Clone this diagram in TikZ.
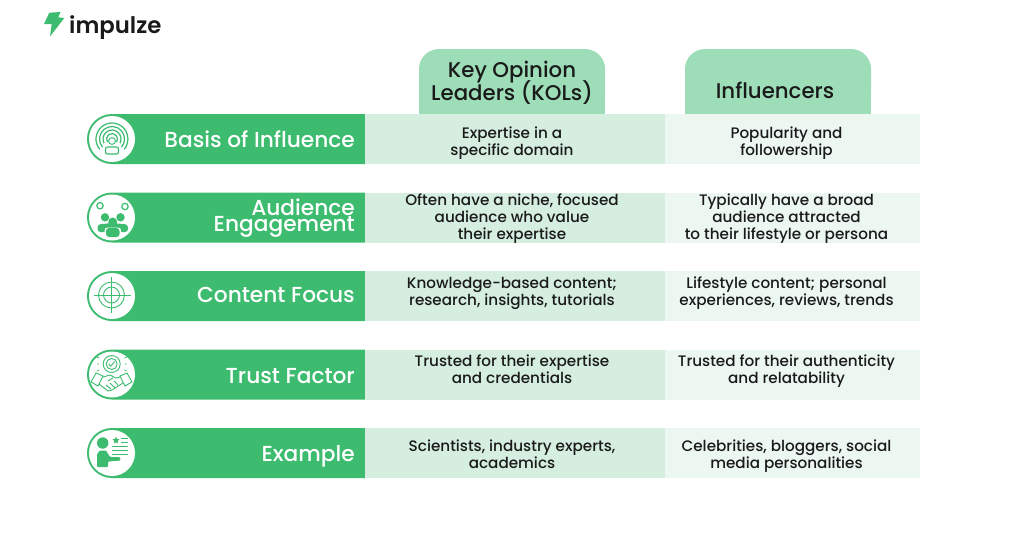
\documentclass[tikz,border=0pt]{standalone}
\usepackage{fontspec}
\setmainfont{Poppins Medium}
\newfontfamily\logofont{Poppins SemiBold}
\usetikzlibrary{positioning, shapes.misc}
\definecolor{brandgreen}{HTML}{3DBC70}
\definecolor{headgreen}{HTML}{9DDEB8}
\definecolor{kolcell}{HTML}{D5EEDF}
\definecolor{infcell}{HTML}{ECF7F1}
\definecolor{inkblack}{HTML}{1A1A1A}

\begin{document}
\begin{tikzpicture}[
    x=1pt, y=-1pt,
    node distance = 28.5pt and 0pt,
    every node/.style={text=inkblack},
    rowbar/.style={shape=rounded rectangle, rounded rectangle right arc=none, fill=brandgreen, minimum width=278pt, minimum height=50pt, inner sep=0pt, outer sep=0pt},
    rowtitle/.style={text=white, font=\fontsize{21.7}{16}\selectfont, execute at begin node={\lineskiplimit=-20pt\relax}, align=right, anchor=east, inner sep=0pt},
    kolbox/.style={fill=kolcell, minimum width=300pt, minimum height=50pt, inner sep=0pt, outer sep=0pt},
    infbox/.style={fill=infcell, minimum width=255pt, minimum height=50pt, inner sep=0pt, outer sep=0pt},
    celltext/.style={font=\fontsize{15.2}{17}\selectfont, align=center, inner sep=0pt},
    headbox/.style={fill=headgreen, minimum width=186pt, minimum height=64.5pt, inner sep=0pt, outer sep=0pt, rounded corners=20pt},
    headtext/.style={font=\fontsize{21.3}{23.5}\selectfont, execute at begin node={\lineskiplimit=-20pt\relax}, align=center, inner sep=0pt},
    iconring/.style={fill=white, minimum size=46pt, inner sep=0pt, shape=circle},
    iconline/.style={draw=brandgreen, line width=1.2pt, fill=none},
    thinline/.style={draw=brandgreen, line width=0.9pt, fill=none},
    iconfill/.style={fill=brandgreen, draw=none}
]
\useasboundingbox (0,0) rectangle (1024,547);

% Logo
\fill[brandgreen] (49.3,12.7) -- (60.5,12) -- (58.3,17.3) -- (64.3,18) -- (50,36.5) -- (51.7,24) -- (44,24) -- cycle;
\node[anchor=base west, inner sep=0pt, font=\fontsize{22.8}{25}\logofont] (logo) at (69,33) {impulze};

% Rows: title bar, then the two cells
\node[rowbar, anchor=west] (bar1) at (87,139) {};
\node[kolbox, right=of bar1] (kol1) {};
\node[infbox, right=of kol1] (inf1) {};

\node[rowbar, below=of bar1] (bar2) {};
\node[kolbox, right=of bar2] (kol2) {};
\node[infbox, right=of kol2] (inf2) {};

\node[rowbar, below=of bar2] (bar3) {};
\node[kolbox, right=of bar3] (kol3) {};
\node[infbox, right=of kol3] (inf3) {};

\node[rowbar, below=of bar3] (bar4) {};
\node[kolbox, right=of bar4] (kol4) {};
\node[infbox, right=of kol4] (inf4) {};

\node[rowbar, below=of bar4] (bar5) {};
\node[kolbox, right=of bar5] (kol5) {};
\node[infbox, right=of kol5] (inf5) {};

% Column heads
\node[headbox, sharp corners, minimum height=30pt, anchor=south] (headkolbase) at (512,113.5) {};
\node[headbox, anchor=south] (headkol) at (512,113.5) {};
\node[headbox, sharp corners, minimum height=30pt, anchor=south] (headinfbase) at (778,113.5) {};
\node[headbox, anchor=south] (headinf) at (778,113.5) {};
\node[headtext] (kolhead) at (512,83) {Key Opinion\\Leaders (KOLs)};
\node[headtext] (infhead) at (775,90) {Influencers};

% Row titles
\node[rowtitle] (title1) at ([xshift=-10pt]bar1.east) {Basis of Influence};
\node[rowtitle] (title2) at ([xshift=-10pt,yshift=-1pt]bar2.east) {Audience\\Engagement};
\node[rowtitle] (title3) at ([xshift=-10pt,yshift=1pt]bar3.east) {Content Focus};
\node[rowtitle] (title4) at ([xshift=-10pt,yshift=-1.5pt]bar4.east) {Trust Factor};
\node[rowtitle] (title5) at ([xshift=-10pt,yshift=-3pt]bar5.east) {Example};

% Cell texts
\node[celltext] (text11) at ([xshift=-3pt,yshift=-4.5pt]kol1.center) {Expertise in a\\specific domain};
\node[celltext] (text12) at ([xshift=-6pt,yshift=-4.5pt]inf1.center) {Popularity and\\followership};
\node[celltext] (text21) at ([xshift=-3pt,yshift=-1pt]kol2.center) {Often have a niche, focused\\audience who value\\their expertise};
\node[celltext] (text22) at ([xshift=-6pt,yshift=-1pt]inf2.center) {Typically have a broad\\audience attracted\\to their lifestyle or persona};
\node[celltext] (text31) at ([xshift=-3pt,yshift=2.5pt]kol3.center) {Knowledge-based content;\\research, insights, tutorials};
\node[celltext] (text32) at ([xshift=-6pt,yshift=2.5pt]inf3.center) {Lifestyle content; personal\\experiences, reviews, trends};
\node[celltext] (text41) at ([xshift=-3pt,yshift=5pt]kol4.center) {Trusted for their expertise\\and credentials};
\node[celltext] (text42) at ([xshift=-6pt,yshift=3pt]inf4.center) {Trusted for their authenticity\\and relatability};
\node[celltext] (text51) at ([xshift=-3pt,yshift=-1pt]kol5.center) {Scientists, industry experts,\\academics};
\node[celltext] (text52) at ([xshift=-6pt,yshift=-3pt]inf5.center) {Celebrities, bloggers, social\\media personalities};

% Icon discs
\node[iconring] (disc1) at (112,139) {};
\node[iconring] (disc2) at (112,217.5) {};
\node[iconring] (disc3) at (112,296) {};
\node[iconring] (disc4) at (112,374.5) {};
\node[iconring] (disc5) at (112,453) {};

% Signal icon
\draw[iconline] (disc1.center) ++(215:5.5pt) arc[start angle=215, end angle=-35, radius=5.5pt];
\draw[iconline] (disc1.center) ++(220:9pt) arc[start angle=220, end angle=-40, radius=9pt];
\draw[iconline] (disc1.center) ++(220:12.5pt) arc[start angle=220, end angle=-40, radius=12.5pt];
\draw[iconline] (disc1.center) ++(220:16pt) arc[start angle=220, end angle=-40, radius=16pt];
\fill[white] (104,143) rectangle (120,156);
\draw[thinline] (112,141) circle[radius=3.4pt];
\draw[iconline, rounded corners=2pt] (105.5,154) -- (105.5,147) -- (118.5,147) -- (118.5,154) -- cycle;

% People icon
\draw[iconline] (100,205.7) circle[radius=3.2pt];
\draw[iconline] (125,206.5) circle[radius=3.2pt];
\fill[iconfill] (105,217.3) circle[radius=4.2pt] (120.5,217.3) circle[radius=4.2pt] (112.7,222) circle[radius=4.5pt];
\fill[iconfill, rounded corners=3pt] (97.5,232) -- (97.5,224.5) -- (112,223) -- (128,224.5) -- (128,232) -- cycle;
\fill[white, rounded corners=3pt] (104.5,237.5) -- (104.5,227.5) -- (121,227.5) -- (121,237.5) -- cycle;
\fill[iconfill, rounded corners=3pt] (106,237) -- (106,228) -- (119.5,228) -- (119.5,237) -- cycle;

% Target icon
\draw[thinline] (111.5,295) circle[radius=13pt] (111.5,295) circle[radius=8pt];
\draw[thinline] (93.5,295) -- (130.5,295) (111.5,277) -- (111.5,313);

% Handshake icon
\draw[thinline] (111.7,364) circle[radius=8.5pt] (111.7,364) circle[radius=5.5pt];
\draw[thinline] (108.7,364) -- (110.7,366.2) -- (114.7,361.5);
\draw[thinline] (99,358) -- (97,357) (99,364) -- (97,364) (99,370) -- (97,371) (124.5,358) -- (126.5,357) (124.5,364) -- (126.5,364) (124.5,370) -- (126.5,371);
\draw[thinline] (96,373) -- (103,376) -- (98,386) -- (91,382) -- cycle (127,373) -- (120,376) -- (125,386) -- (132,382) -- cycle;
\draw[thinline] (103,377) -- (110,375) -- (116,378) -- (120,377) (99,384) -- (108,391) -- (112,390) -- (123,383) (108,381) -- (113,378) (106,385) -- (111,389) (110,383) -- (115,388) (114,381) -- (118,385);

% Presenter icon
\fill[iconfill] (102.7,443) circle[radius=5.7pt];
\fill[iconfill, rounded corners=1pt] (97,467) -- (97,454) -- (100,450.5) -- (106,450.5) -- (110,457) -- (120,457) -- (120.5,460.5) -- (108,461.5) -- (108,467) -- cycle;
\fill[iconfill] (116,436.5) -- (117,439) -- (119.5,439.3) -- (117.6,441) -- (118.2,443.5) -- (116,442.2) -- (113.8,443.5) -- (114.4,441) -- (112.5,439.3) -- (115,439) -- cycle;
\draw[iconline, line width=1pt] (121,438.5) -- (128,438.5) (121,442) -- (128,442) (112,446) -- (128,446) (112,450) -- (128,450) (112,454) -- (128,454);
\end{tikzpicture}
\end{document}
